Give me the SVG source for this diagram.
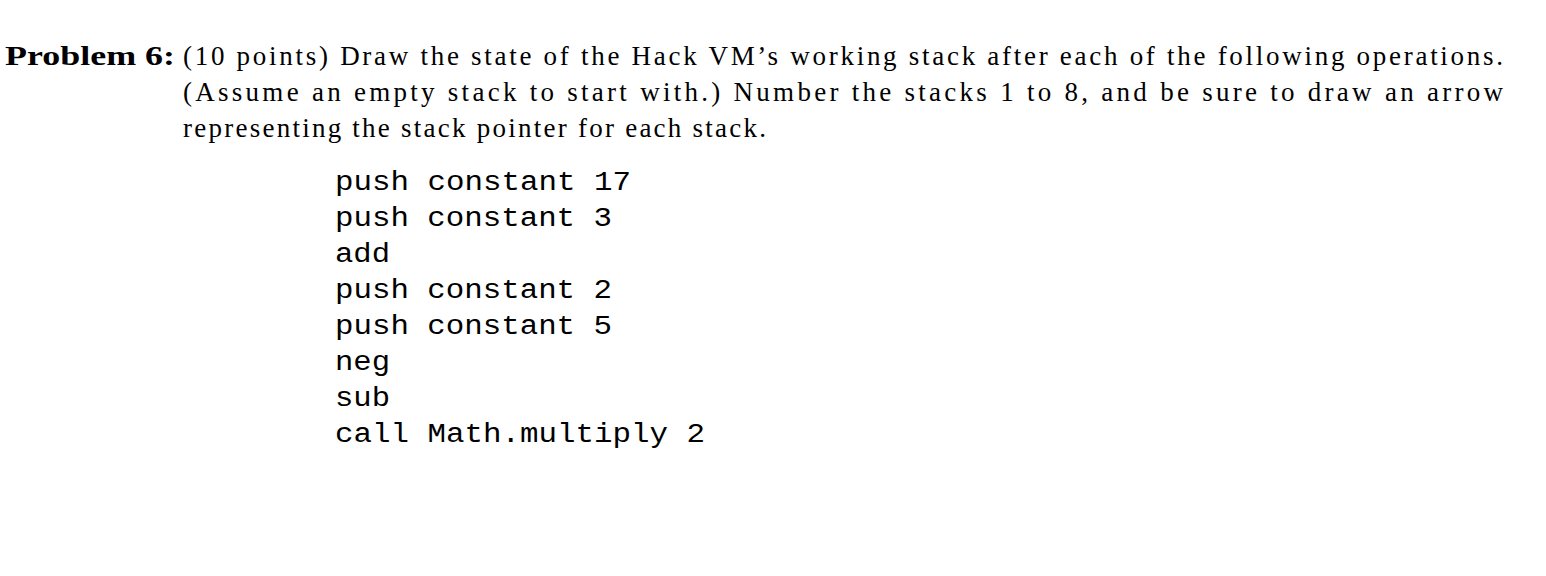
<svg xmlns="http://www.w3.org/2000/svg" width="1546" height="576" viewBox="0 0 1546 576">
<style>
.t{font-family:"Liberation Serif","DejaVu Serif",serif;font-size:27px;fill:#000}
.b{font-weight:bold}
.m{font-family:"Liberation Mono","DejaVu Sans Mono",monospace;font-size:27px;fill:#000}
</style>
<rect width="1546" height="576" fill="#fff"/>
<g id="problem">
<text class="t b" x="5" y="65" textLength="170" lengthAdjust="spacingAndGlyphs">Problem 6:</text>
<text class="t" x="183" y="65" textLength="1320" lengthAdjust="spacing">(10 points) Draw the state of the Hack VM’s working stack after each of the following operations.</text>
<text class="t" x="183" y="101" textLength="1320" lengthAdjust="spacing">(Assume an empty stack to start with.)  Number the stacks 1 to 8, and be sure to draw an arrow</text>
<text class="t" x="183" y="137" textLength="583" lengthAdjust="spacing">representing the stack pointer for each stack.</text>
</g>
<g id="code">
<text class="m" x="335" y="190" textLength="296" lengthAdjust="spacingAndGlyphs">push constant 17</text>
<text class="m" x="335" y="226" textLength="277" lengthAdjust="spacingAndGlyphs">push constant 3</text>
<text class="m" x="335" y="262" textLength="55" lengthAdjust="spacingAndGlyphs">add</text>
<text class="m" x="335" y="298" textLength="277" lengthAdjust="spacingAndGlyphs">push constant 2</text>
<text class="m" x="335" y="334" textLength="277" lengthAdjust="spacingAndGlyphs">push constant 5</text>
<text class="m" x="335" y="370" textLength="55" lengthAdjust="spacingAndGlyphs">neg</text>
<text class="m" x="335" y="406" textLength="55" lengthAdjust="spacingAndGlyphs">sub</text>
<text class="m" x="335" y="442" textLength="370" lengthAdjust="spacingAndGlyphs">call Math.multiply 2</text>
</g>
</svg>
